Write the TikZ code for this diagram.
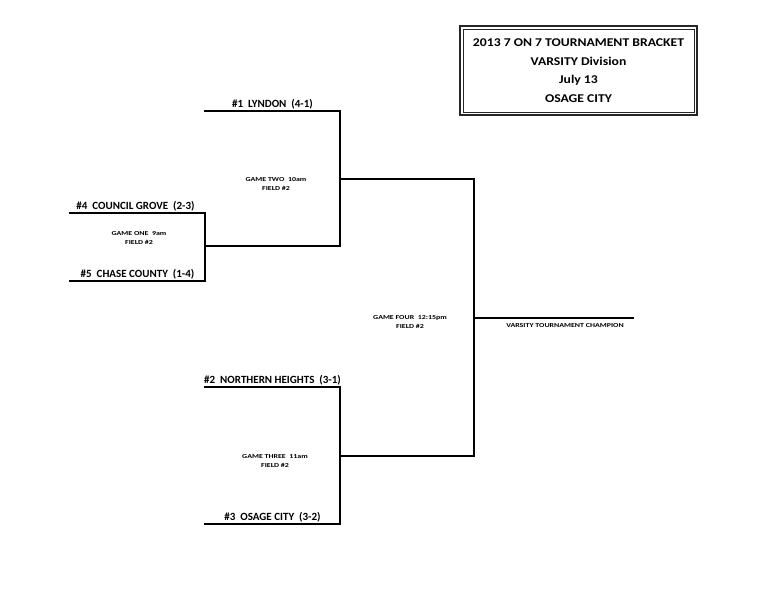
\documentclass[tikz,border=0pt]{standalone}
\usepackage{fontspec}
\setmainfont{Carlito}
\newfontfamily\widefont[FakeStretch=1.15]{Carlito}
\newfontfamily\gamefont[FakeStretch=1.3]{Carlito}
\usetikzlibrary{positioning,calc}
\tikzset{
  bline/.style={line width=1.6pt,line cap=rect,black},
  team/.style={font=\bfseries\fontsize{11}{13}\selectfont,inner sep=0pt,anchor=base},
  game/.style={font=\gamefont\bfseries\fontsize{6.1}{9}\selectfont,align=center,inner sep=0pt},
  titlebox/.style={draw=black!85,line width=1.8pt,minimum width=237pt,minimum height=89pt,align=center,
    font=\widefont\bfseries\fontsize{11.9}{18.7}\selectfont,inner sep=0pt}
}

\begin{document}
\begin{tikzpicture}[x=1pt,y=-1pt]
    \useasboundingbox (0,0) rectangle (768,594);
    % title
    \node[titlebox] (title) at (578.5,70.5) {2013 7 ON 7 TOURNAMENT BRACKET\\VARSITY Division\\July 13\\OSAGE CITY};
    \draw[line width=0.8pt,black!85] ($(title.north west)+(4,4)$) rectangle ($(title.south east)+(-4,-4)$);
    % first round
    \coordinate (cg-a) at (70,213);
    \coordinate (cg-b) at (205,213);
    \coordinate (cc-a) at (70,281);
    \coordinate (cc-b) at (205,281);
    \coordinate (g1-a) at (205,246);
    \coordinate (g1-b) at (340,246);
    \coordinate (lyn-a) at (205,111);
    \coordinate (lyn-b) at (340,111);
    \coordinate (g2-a) at (340,179);
    \coordinate (g2-b) at (474,179);
    \coordinate (nh-a) at (205,387);
    \coordinate (nh-b) at (340,387);
    \coordinate (oc-a) at (205,524);
    \coordinate (oc-b) at (340,524);
    \coordinate (g3-a) at (340,456);
    \coordinate (g3-b) at (474,456);
    \coordinate (g4-a) at (474,318);
    \coordinate (champ) at (633,318);
    % teams
    \node[team] (lyndon) at ($(lyn-a)!0.5!(lyn-b)+(0,-4)$) {\#1~~LYNDON~~(4-1)};
    \node[team] (council) at ($(cg-a)!0.5!(cg-b)+(-2,-4)$) {\#4~~COUNCIL GROVE~~(2-3)};
    \node[team] (chase) at ($(cc-a)!0.5!(cc-b)+(0,-4)$) {\#5~~CHASE COUNTY~~(1-4)};
    \node[team] (northern) at ($(nh-a)!0.5!(nh-b)+(0,-4)$) {\#2~~NORTHERN HEIGHTS~~(3-1)};
    \node[team] (osage) at ($(oc-a)!0.5!(oc-b)+(0,-4)$) {\#3~~OSAGE CITY~~(3-2)};
    % games
    \node[game] (game1) at (139,238) {GAME ONE~~9am\\FIELD \#2};
    \node[game] (game2) at (276,184) {GAME TWO~~10am\\FIELD \#2};
    \node[game] (game3) at (275,460.5) {GAME THREE~~11am\\FIELD \#2};
    \node[game] (game4) at (410,321.5) {GAME FOUR~~12:15pm\\FIELD \#2};
    \node[game] (winner) at (565,326) {VARSITY TOURNAMENT CHAMPION};
    % bracket
    \draw[bline] (cg-a) -- (cg-b) -- (cc-b) -- (cc-a);
    \draw[bline] (g1-a) -- (g1-b);
    \draw[bline] (lyn-a) -- (lyn-b) -- (g1-b);
    \draw[bline] (nh-a) -- (nh-b) -- (oc-b) -- (oc-a);
    \draw[bline] (g2-a) -- (g2-b) -- (g3-b) -- (g3-a);
    \draw[bline] (g4-a) -- (champ);
  \end{tikzpicture}
\end{document}
